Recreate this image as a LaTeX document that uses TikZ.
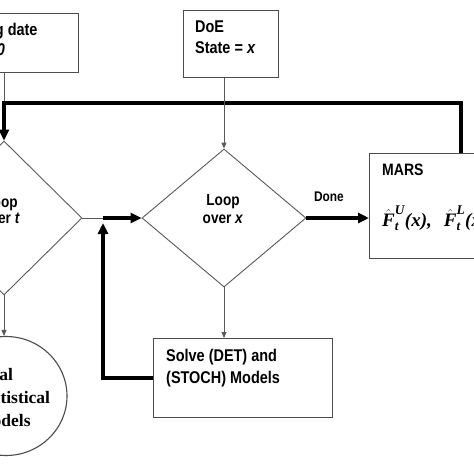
\documentclass[tikz,border=0pt]{standalone}
\usepackage{fontspec}
\usepackage{amsmath}
\usetikzlibrary{arrows.meta,shapes.geometric,calc}
\newfontfamily\narrowsans{Liberation Sans}[FakeStretch=0.85]
\newfontfamily\serifb{Liberation Serif}
\newcommand{\bitext}[1]{\text{\serifb\bfseries\itshape #1}}
\newsavebox{\marsbox}
\begin{document}
\sbox{\marsbox}{\fontsize{19}{21}\selectfont$\hat{\bitext{F}}_{\bitext{t}}^{\bitext{U}}\bitext{(x),}\hspace{12pt}\hat{\bitext{F}}_{\bitext{t}}^{\bitext{L}}\bitext{(x)}$}%
\begin{tikzpicture}[x=1pt,y=-1pt,
  boxs/.style={draw=black!70, line width=1.3pt, inner sep=0pt},
  dshape/.style={diamond, draw=black!65, line width=0.9pt, inner sep=0pt},
  lbl/.style={font=\narrowsans\bfseries\fontsize{17}{21}\selectfont, anchor=base west, inner sep=0pt},
  dlbl/.style={font=\narrowsans\bfseries\fontsize{16}{18}\selectfont, anchor=base, inner sep=0pt},
  slbl/.style={font=\serifb\bfseries\fontsize{17.5}{23}\selectfont, anchor=base west, inner sep=0pt},
  mlbl/.style={anchor=base west, inner sep=0pt},
  thinline/.style={draw=black!65, line width=0.9pt},
  thinarrow/.style={thinline, -{Triangle[length=6pt,width=5pt]}},
  thickarrow/.style={draw=black, line width=3.6pt, -{Triangle[length=11pt,width=10pt]}},
  ]
\useasboundingbox (0,0) rectangle (474,474);
\clip (0,0) rectangle (474,474);
\fill[white] (0,0) rectangle (474,474);

% boxes
\node[boxs, minimum width=180pt, minimum height=59pt, anchor=north east] (start) at (79,13) {};
\node[lbl] (start1) at (-51,35) {Starting date};
\node[lbl, anchor=base east] (start2) at (5,55) {\textit{t = 0}};

\node[boxs, minimum width=95pt, minimum height=67pt, anchor=north west] (doe) at (183,10) {};
\node[lbl] (doe1) at (195,32) {DoE};
\node[lbl] (doe2) at (195,53) {State = \textit{x}};

\node[dshape, minimum width=156pt, minimum height=154pt] (loopt) at (4,218) {};
\node[dlbl] (loopt1) at (1,207) {Loop};
\node[dlbl] (loopt2) at (1,223) {over \textit{t}};

\node[dshape, minimum width=164pt, minimum height=138pt] (loopx) at (224,218) {};
\node[dlbl] (loopx1) at (223,205) {Loop};
\node[dlbl] (loopx2) at (223,223) {over \textit{x}};

\node[boxs, minimum width=231pt, minimum height=105pt, anchor=north west] (mars) at (369,153) {};
\node[lbl, font=\narrowsans\bfseries\fontsize{16.5}{20}\selectfont] (mars1) at (382,175) {MARS};
\node[mlbl] (mars2) at (382,226) {\usebox{\marsbox}};

\node[boxs, minimum width=179pt, minimum height=79pt, anchor=north west] (solve) at (153,338) {};
\node[lbl] (solve1) at (166,361) {Solve (DET) and};
\node[lbl] (solve2) at (166,383) {(STOCH) Models};

\node[ellipse, draw=black!70, line width=1.1pt, minimum width=122pt, minimum height=119pt, inner sep=0pt] (final) at (6,396) {};
\node[slbl] (final1) at (-26,380) {Final};
\node[slbl] (final2) at (-24,403) {Statistical};
\node[slbl] (final3) at (-24,426) {Models};

% connectors
\coordinate (tr) at (461,103);
\coordinate (j) at (103,218);
\coordinate (j2) at (103,223);

\draw[thinline] (start.south -| loopt.north) -- (tr -| loopt.north);
\draw[thickarrow] (tr |- mars.north) -- (tr) -- (tr -| loopt.north) -- (loopt.north);
\draw[thinarrow] (doe.south -| loopx.north) -- (loopx.north);
\draw[thinline] (loopt.east) -- (j);
\draw[thickarrow] (j) -- (loopx.west);
\draw[thickarrow] (solve.west) -- (solve.west -| j) -- (j2);
\draw[thinarrow] (loopx.south) -- (loopx.south |- solve.north);
\draw[thinarrow] (loopt.south) -- (loopt.south |- final.north);
\draw[thickarrow] (loopx.east) -- node[pos=0.36, anchor=base, yshift=17pt, inner sep=0pt, font=\narrowsans\bfseries\fontsize{14}{16}\selectfont] (done) {Done} (loopx.east -| mars.west);
\end{tikzpicture}
\end{document}
